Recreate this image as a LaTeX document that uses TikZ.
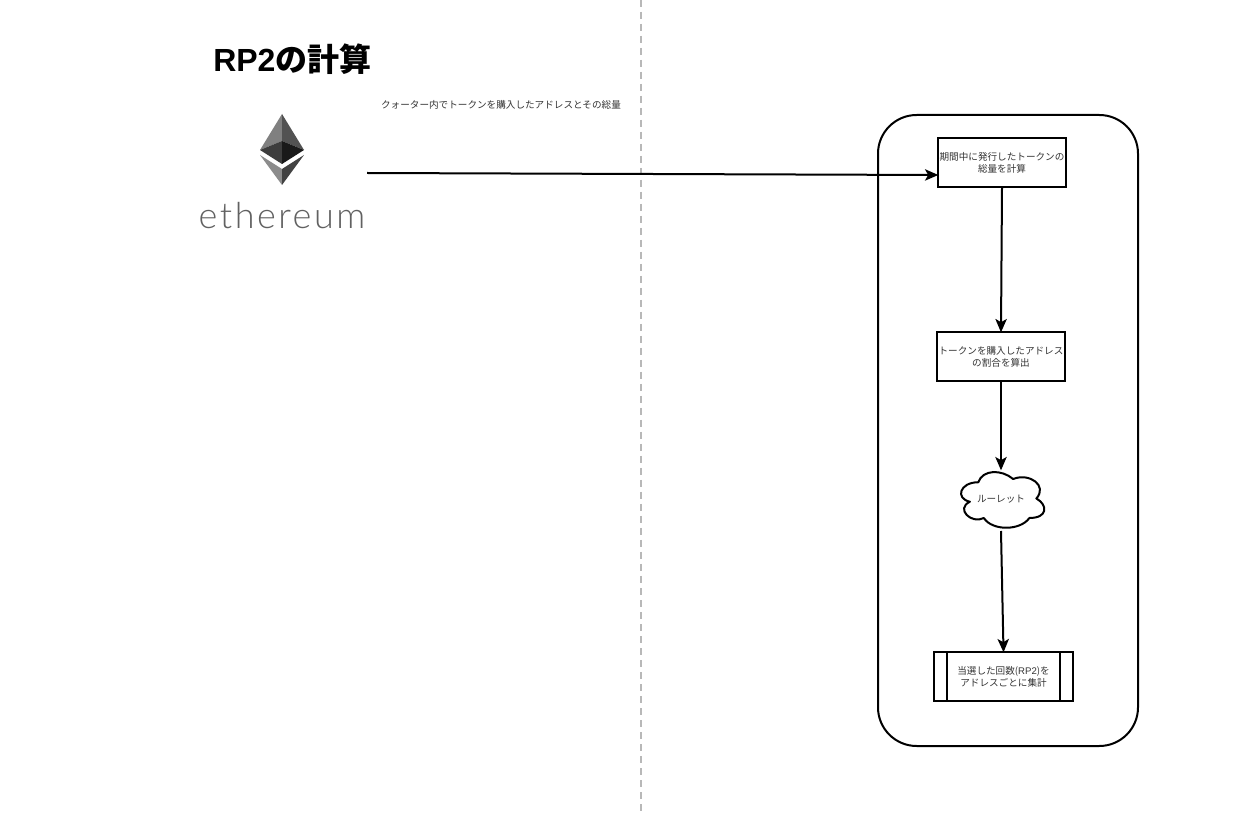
\documentclass[tikz,border=0pt]{standalone}
\usepackage{fontspec}
\setmainfont{Noto Sans CJK JP}
\newfontfamily\latinfont{Liberation Sans}
\newfontfamily\ethfont[LetterSpace=7]{Lato Light}
\usetikzlibrary{arrows.meta}
\tikzset{
  x=0.75pt,y=-0.75pt,
  line/.style={line width=1.5pt,black},
  arrowline/.style={line/.try,shorten >=-1pt,-{Stealth[length=10pt,width=8.5pt,inset=2.4pt]}},
  procbox/.style={draw=black,line width=1.5pt,fill=white,inner sep=0pt,align=center,text=black!80,font=\fontsize{7.2}{9.2}\selectfont},
  lbl/.style={inner sep=0pt,align=center,text=black!80,font=\fontsize{7.2}{9.2}\selectfont},
}
\begin{document}
\begin{tikzpicture}
\useasboundingbox (0,0) rectangle (1236,816);
\fill[white] (0,0) rectangle (1236,816);
% divider
\coordinate (dtop) at (641,0);
\coordinate (dbot) at (641,812);
\draw[draw=black!28,line width=1.5pt,dash pattern=on 5.5pt off 3.5pt] (dtop) -- (dbot);
% title
\node[inner sep=0pt,anchor=base west] (title) at (213,71.5) {\fontsize{24}{28}\selectfont\bfseries{\latinfont\bfseries RP2}の計算};
% caption
\node[lbl] (caption) at (501,104.5) {クォーター内でトークンを購入したアドレスとその総量};
% logo
\fill[black!50] (282,114) -- (260,150) -- (282,141) -- cycle;
\fill[black!68] (282,114) -- (304,150) -- (282,141) -- cycle;
\fill[black!76] (260,150) -- (282,141) -- (282,164) -- cycle;
\fill[black!90] (304,150) -- (282,141) -- (282,164) -- cycle;
\fill[black!45] (260,155) -- (282,169) -- (282,185) -- cycle;
\fill[black!74] (304,155) -- (282,169) -- (282,185) -- cycle;
\node[inner sep=0pt,anchor=base,text=black!62] (eth) at (282,229) {\ethfont\fontsize{27}{27}\selectfont ethereum};
\coordinate (ethout) at (367,173);
% container
\draw[line,rounded corners=29pt] (878,115) rectangle (1138,746);
% steps
\node[procbox,minimum width=96pt,minimum height=36.75pt] (s1) at (1002,162.5) {期間中に発行したトークンの\\総量を計算};
\node[procbox,minimum width=96pt,minimum height=36.75pt] (s2) at (1001,356.5) {トークンを購入したアドレス\\の割合を算出};
% cloud
\def\cx{955}\def\cy{466}\def\cw{93}\def\ch{65}
\draw[line,line join=round,fill=white]
 ({\cx+.25*\cw},{\cy+.25*\ch})
 .. controls ({\cx+.05*\cw},{\cy+.25*\ch}) and ({\cx},{\cy+.5*\ch}) .. ({\cx+.16*\cw},{\cy+.55*\ch})
 .. controls ({\cx},{\cy+.66*\ch}) and ({\cx+.18*\cw},{\cy+.9*\ch}) .. ({\cx+.31*\cw},{\cy+.8*\ch})
 .. controls ({\cx+.4*\cw},{\cy+\ch}) and ({\cx+.7*\cw},{\cy+\ch}) .. ({\cx+.8*\cw},{\cy+.8*\ch})
 .. controls ({\cx+\cw},{\cy+.8*\ch}) and ({\cx+\cw},{\cy+.6*\ch}) .. ({\cx+.875*\cw},{\cy+.5*\ch})
 .. controls ({\cx+\cw},{\cy+.3*\ch}) and ({\cx+.8*\cw},{\cy+.1*\ch}) .. ({\cx+.625*\cw},{\cy+.2*\ch})
 .. controls ({\cx+.5*\cw},{\cy+.05*\ch}) and ({\cx+.3*\cw},{\cy+.05*\ch}) .. ({\cx+.25*\cw},{\cy+.25*\ch}) -- cycle;
\node[lbl] (cloud) at (1001,499) {ルーレット};
\coordinate (cloudtop) at (1001,469);
\coordinate (cloudbot) at (1001,531);
% predefined process
\node[procbox,minimum width=104.25pt,minimum height=36.75pt] (s4) at (1003.5,676.5) {当選した回数({\latinfont RP2})を\\アドレスごとに集計};
\draw[line] (947,652) -- (947,701);
\draw[line] (1060,652) -- (1060,701);
% connectors
\draw[arrowline] (ethout) -- (s1.west |- 0,175);
\draw[arrowline] (s1.south) -- (s2.north);
\draw[arrowline] (s2.south) -- (cloudtop);
\draw[arrowline] (cloudbot) -- (s4.north);
\end{tikzpicture}
\end{document}
